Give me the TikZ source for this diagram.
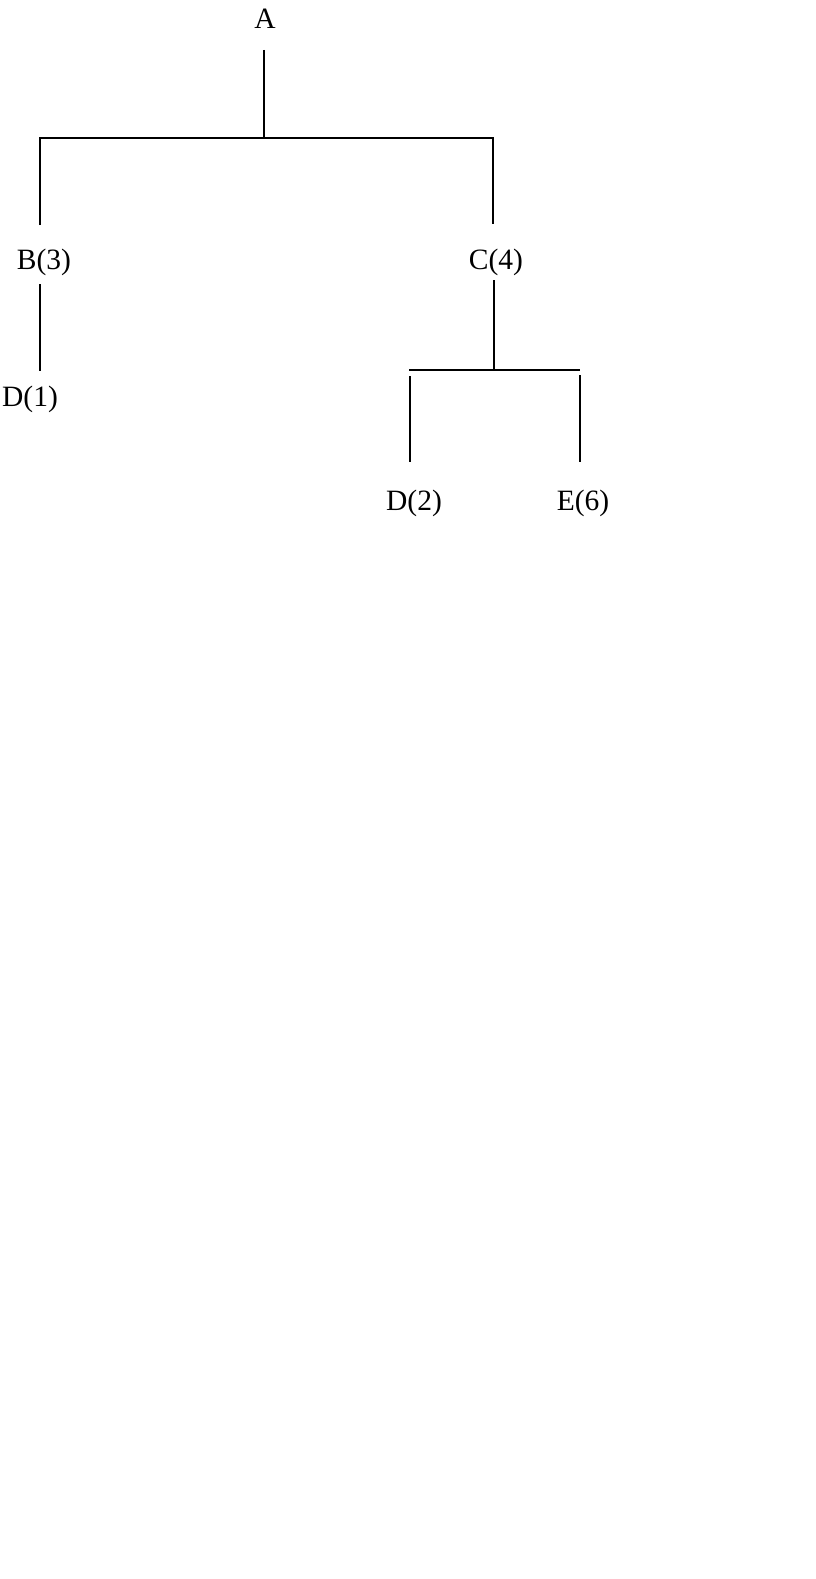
\documentclass[tikz,border=0pt]{standalone}
\usepackage{fontspec}
\setmainfont{Liberation Serif}
\begin{document}
\begin{tikzpicture}[x=1pt,y=-1pt,
  lbl/.style={anchor=base,inner sep=0pt,font=\fontsize{29.5}{35}\selectfont},
  edge/.style={line width=2.3pt,black}]
\useasboundingbox[fill=white] (0,0) rectangle (815,1579);
% labels
\node[lbl] (A)  at (265,29)  {A};
\node[lbl] (B)  at (44,269)  {B(3)};
\node[lbl] (C)  at (496,269) {C(4)};
\node[lbl] (D1) at (30,406)  {D(1)};
\node[lbl] (D2) at (414,510) {D(2)};
\node[lbl] (E)  at (583,510) {E(6)};
% connector ends
\coordinate (a1) at (264,50);
\coordinate (a2) at (264,138);
\coordinate (hl) at (40,138);
\coordinate (hr) at (493,138);
\coordinate (b0) at (40,225);
\coordinate (c0) at (493,224);
\coordinate (b1) at (40,284);
\coordinate (b2) at (40,371);
\coordinate (c1) at (494,280);
\coordinate (c2) at (494,370);
\coordinate (gl) at (409,370);
\coordinate (gr) at (580,370);
\coordinate (d1) at (410,376);
\coordinate (d2) at (410,462);
\coordinate (e1) at (580,375);
\coordinate (e2) at (580,462);
% connectors
\draw[edge] (a1) -- (a2);
\draw[edge] (b0) -- (hl) -- (hr) -- (c0);
\draw[edge] (b1) -- (b2);
\draw[edge] (c1) -- (c2);
\draw[edge] (gl) -- (gr);
\draw[edge] (d1) -- (d2);
\draw[edge] (e1) -- (e2);
\end{tikzpicture}
\end{document}
